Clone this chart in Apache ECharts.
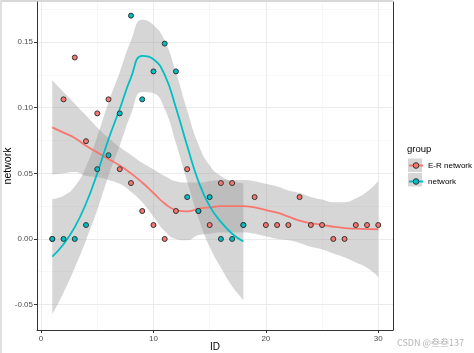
<!DOCTYPE html>
<html>
<head>
<meta charset="utf-8">
<script src="https://cdn.jsdelivr.net/npm/echarts@6/dist/echarts.min.js"></script>
<style>
  html, body { margin: 0; padding: 0; background: #fff; }
  #chart { width: 474px; height: 353px; }
</style>
</head>
<body>
<div id="chart"></div>
<script>
// 原始点
var ids = [1, 2, 3, 4, 5, 6, 7, 8, 9, 10, 11, 12, 13, 14, 15, 16, 17, 18, 19, 20, 21, 22, 23, 24, 25, 26, 27, 28, 29, 30];
var erNetwork = [0, 0.1064, 0.1383, 0.0745, 0.0957, 0.1064, 0.0532, 0.0426, 0.0213, 0.0106,
  0, 0.0213, 0.0532, 0.0213, 0.0106, 0.0426, 0.0426, 0.0106, 0.0319, 0.0106,
  0.0106, 0.0106, 0.0319, 0.0106, 0.0106, 0, 0, 0.0106, 0.0106, 0.0106];
var netIds = [1, 2, 3, 4, 5, 6, 7, 8, 9, 10, 11, 12, 13, 14, 15, 16, 17, 18];
var network = [0, 0, 0, 0.0106, 0.0532, 0.0638, 0.0957, 0.1702, 0.1064, 0.1277,
  0.1489, 0.1277, 0.0319, 0.0213, 0.0319, 0, 0, 0.0106];

// loess 拟合线和置信带（从图上读出来的）
var erFit = [0.085, 0.081, 0.077, 0.071, 0.066, 0.061, 0.056, 0.050, 0.043, 0.035,
  0.027, 0.022, 0.021, 0.023, 0.024, 0.025, 0.025, 0.025, 0.024, 0.022,
  0.020, 0.017, 0.014, 0.012, 0.0107, 0.0093, 0.0083, 0.0078, 0.0075, 0.0074];
var erUpper = [0.121, 0.112, 0.103, 0.094, 0.085, 0.077, 0.070, 0.064, 0.058, 0.053,
  0.048, 0.044, 0.043, 0.043, 0.044, 0.045, 0.045, 0.045, 0.044, 0.042,
  0.040, 0.037, 0.035, 0.032, 0.030, 0.028, 0.028, 0.031, 0.036, 0.044];
var erLower = [0.049, 0.050, 0.051, 0.048, 0.047, 0.045, 0.042, 0.036, 0.028, 0.017,
  0.006, 0.000, -0.001, 0.003, 0.004, 0.005, 0.005, 0.005, 0.004, 0.002,
  0.000, -0.001, -0.003, -0.006, -0.008, -0.011, -0.014, -0.018, -0.022, -0.029];
var netFit = [-0.0135, -0.004, 0.009, 0.027, 0.050, 0.076, 0.099, 0.123, 0.1395, 0.137,
  0.125, 0.100, 0.071, 0.044, 0.025, 0.013, 0.004, -0.002];
var netUpper = [0.0305, 0.033, 0.040, 0.055, 0.078, 0.104, 0.127, 0.151, 0.167, 0.163,
  0.151, 0.127, 0.098, 0.072, 0.056, 0.048, 0.044, 0.0425];
var netLower = [-0.0575, -0.041, -0.022, -0.001, 0.022, 0.048, 0.071, 0.095, 0.112, 0.111,
  0.099, 0.073, 0.044, 0.016, -0.006, -0.022, -0.036, -0.0465];

var xTicks = [0, 10, 20, 30];
var yTicks = [-0.05, 0, 0.05, 0.1, 0.15];

var RED = "#F8766D";
var TEAL = "#00BFC4";

function pairs(xs, ys) {
  return xs.map(function (x, i) { return [x, ys[i]]; });
}

// 置信带：下界 + (上界-下界) 堆叠
// 数据写成 [y, x]，让 echarts 堆叠 y 这一维（两根数值轴时默认堆第一维）
function band(key, xs, lower, upper) {
  var diff = upper.map(function (u, i) { return u - lower[i]; });
  return [
    {
      name: key + "-lo", type: "line", stack: key, stackStrategy: "all",
      data: pairs(lower, xs), encode: { x: 1, y: 0 },
      symbol: "none", smooth: true, silent: true,
      lineStyle: { opacity: 0 }, z: 1
    },
    {
      name: key + "-hi", type: "line", stack: key, stackStrategy: "all",
      data: pairs(diff, xs), encode: { x: 1, y: 0 },
      symbol: "none", smooth: true, silent: true,
      lineStyle: { opacity: 0 },
      areaStyle: { color: "#999999", opacity: 0.4 }, z: 1
    }
  ];
}

var myChart = echarts.init(document.getElementById("chart"));
var font = "Liberation Sans";

myChart.setOption({
  animation: false,
  textStyle: { fontFamily: font },
  grid: { left: 37, right: 81, top: 2, bottom: 23, outerBoundsMode: "none", containLabel: false },
  title: {
    text: "group", left: 407, top: 144, padding: 0,
    textStyle: { fontSize: 9.5, fontWeight: "normal", color: "#000", fontFamily: font }
  },
  legend: {
    data: ["E-R network", "network"],
    orient: "vertical", left: 408, top: 161.5, padding: 0,
    itemWidth: 14, itemHeight: 7, itemGap: 8,
    textStyle: { fontSize: 8, color: "#000", fontFamily: font },
    itemStyle: { borderColor: "#333", borderWidth: 1 },
    selectedMode: false
  },
  xAxis: [{
    type: "value", min: -0.36, max: 31.31, splitNumber: 3,
    name: "ID", nameLocation: "middle", nameGap: 17, nameMoveOverlap: false,
    nameTextStyle: { fontSize: 10, color: "#000", fontFamily: font, verticalAlign: "middle", lineHeight: 10 },
    axisLine: { show: true, onZero: false, lineStyle: { color: "#333" } },
    axisTick: { show: true, length: 3, customValues: xTicks, lineStyle: { color: "#333" } },
    axisLabel: { customValues: xTicks, fontSize: 8, color: "#4d4d4d", margin: 5 },
    splitLine: { show: true, lineStyle: { color: "#ebebeb", width: 1 } },
    minorTick: { show: false, splitNumber: 2 },
    minorSplitLine: { show: true, lineStyle: { color: "#f2f2f2", width: 0.6 } }
  }],
  yAxis: [{
    type: "value", min: -0.0694, max: 0.1806, splitNumber: 5,
    name: "network", nameLocation: "middle", nameGap: 29, nameMoveOverlap: false,
    nameTextStyle: { fontSize: 10.5, color: "#000", fontFamily: font, verticalAlign: "middle", lineHeight: 11 },
    axisLine: { show: true, onZero: false, lineStyle: { color: "#333" } },
    axisTick: { show: true, length: 3, customValues: yTicks, lineStyle: { color: "#333" } },
    axisLabel: {
      customValues: yTicks, fontSize: 8, color: "#4d4d4d", margin: 4,
      formatter: function (v) { return v.toFixed(2); }
    },
    splitLine: { show: true, lineStyle: { color: "#ebebeb", width: 1 } },
    minorTick: { show: false, splitNumber: 2 },
    minorSplitLine: { show: true, lineStyle: { color: "#f2f2f2", width: 0.6 } }
  }, {
    // 右边框
    type: "value", position: "right", min: -0.0694, max: 0.1806,
    axisLine: { show: true, onZero: false, lineStyle: { color: "#333" } },
    axisTick: { show: false }, axisLabel: { show: false }, splitLine: { show: false }
  }],
  graphic: [
    { type: "rect", shape: { x: 0, y: 0, width: 393, height: 2 }, style: { fill: "#d8d8d8" }, silent: true },
    { type: "rect", shape: { x: 0, y: 0, width: 2, height: 353 }, style: { fill: "#e0e0e0" }, silent: true },
    // 图例键的灰底
    { type: "rect", shape: { x: 408, y: 158.5, width: 14, height: 13.5 }, style: { fill: "#d6d6d6" }, z: 1, silent: true },
    { type: "rect", shape: { x: 408, y: 173, width: 14, height: 13.5 }, style: { fill: "#d6d6d6" }, z: 1, silent: true },
    {
      type: "text", x: 397, y: 343, silent: true,
      style: { text: "CSDN @叁叁137", fill: "#b4b4b4", font: "9px 'Noto Sans CJK SC'", verticalAlign: "middle" }
    }
  ],
  series: [].concat(
    band("erBand", ids, erLower, erUpper),
    band("netBand", netIds, netLower, netUpper),
    [
      {
        name: "er-fit", type: "line", data: pairs(ids, erFit), smooth: true,
        symbol: "none", lineStyle: { color: RED, width: 1.8 }, z: 3
      },
      {
        name: "net-fit", type: "line", data: pairs(netIds, netFit), smooth: true,
        symbol: "none", lineStyle: { color: TEAL, width: 1.8 }, z: 3
      },
      {
        name: "er-pt", type: "scatter", data: pairs(ids, erNetwork), symbolSize: 5,
        itemStyle: { color: RED, borderColor: "#333", borderWidth: 1, opacity: 1 }, z: 4
      },
      {
        name: "net-pt", type: "scatter", data: pairs(netIds, network), symbolSize: 5,
        itemStyle: { color: TEAL, borderColor: "#333", borderWidth: 1, opacity: 1 }, z: 4
      },
      // 只给图例用
      {
        name: "E-R network", type: "line", data: [], symbol: "circle",
        itemStyle: { color: RED, borderColor: "#333", borderWidth: 1 },
        lineStyle: { color: RED, width: 1.8 }
      },
      {
        name: "network", type: "line", data: [], symbol: "circle",
        itemStyle: { color: TEAL, borderColor: "#333", borderWidth: 1 },
        lineStyle: { color: TEAL, width: 1.8 }
      }
    ]
  )
});

window.onresize = function () {
  myChart.resize();
};
</script>
</body>
</html>
